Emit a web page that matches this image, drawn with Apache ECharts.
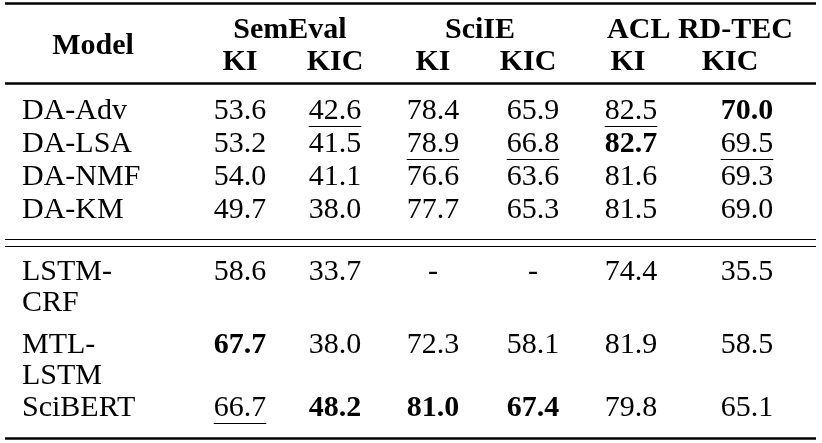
<!DOCTYPE html>
<html><head><meta charset="utf-8">
<script src="https://cdn.jsdelivr.net/npm/echarts@6/dist/echarts.min.js"></script>
<style>html,body{margin:0;background:#fff}#c{width:822px;height:443px}</style>
</head><body><div id="c"></div>
<script>
const models = ['DA-Adv','DA-LSA','DA-NMF','DA-KM','LSTM-\nCRF','MTL-\nLSTM','SciBERT'];
const groups = ['SemEval','SciIE','ACL RD-TEC'];
const subCols = ['KI','KIC','KI','KIC','KI','KIC'];
const values = [
 ['53.6','42.6','78.4','65.9','82.5','70.0'],
 ['53.2','41.5','78.9','66.8','82.7','69.5'],
 ['54.0','41.1','76.6','63.6','81.6','69.3'],
 ['49.7','38.0','77.7','65.3','81.5','69.0'],
 ['58.6','33.7','-','-','74.4','35.5'],
 ['67.7','38.0','72.3','58.1','81.9','58.5'],
 ['66.7','48.2','81.0','67.4','79.8','65.1']
];
const bold = [[0,5],[1,4],[5,0],[6,1],[6,2],[6,3]];
const under = [[0,1],[0,4],[1,2],[1,3],[1,5],[6,0]];

// layout
const colX = [240,335,433,533,631,747];
const headX = [240,335,433,528,628,730];
const groupX = [290,480,700];
const rowY = [111,144,177,210,272,345,408];
const F = 'Liberation Serif', FS = 30;
const cells = [];
models.forEach((m,r)=>{
  const lines = m.split('\n');
  lines.forEach((t,k)=>cells.push({value:[22,rowY[r]+k*31],t,align:'left'}));
  values[r].forEach((v,c)=>{
    const isB = bold.some(b=>b[0]===r&&b[1]===c);
    cells.push({value:[colX[c],rowY[r]],t:v,bold:isB});
  });
});
cells.push({value:[93,46],t:'Model',bold:true});
groups.forEach((g,i)=>cells.push({value:[groupX[i],30],t:g,bold:true}));
subCols.forEach((s,i)=>cells.push({value:[headX[i],62],t:s,bold:true}));

const cv=document.createElement('canvas').getContext('2d');
function w(t,b){cv.font=(b?'bold ':'')+FS+'px "'+F+'"';return cv.measureText(t).width;}
const seg=(x1,x2,y,wd)=>[{coord:[x1,y],lineStyle:{width:wd}},{coord:[x2,y]}];
const lines=[seg(5,816,3,2.5),seg(5,816,83,2.5),seg(5,816,239,1.2),seg(5,816,246,1.2),seg(5,816,438,2.5)];
under.forEach(([r,c])=>{const ww=w(values[r][c]);lines.push(seg(colX[c]-ww/2,colX[c]+ww/2,rowY[r]+15,1.2));});

const chart=echarts.init(document.getElementById('c'));
chart.setOption({
  animation:false,
  grid:{left:0,right:0,top:0,bottom:0},
  xAxis:{type:'value',min:0,max:822,show:false},
  yAxis:{type:'value',min:0,max:443,inverse:true,show:false},
  series:[{
    type:'scatter',symbolSize:0,silent:true,itemStyle:{opacity:1},
    data:cells.map(c=>({value:c.value,label:{show:true,position:'inside',formatter:c.t,
      align:c.align||'center',verticalAlign:'middle',color:'#000',opacity:1,fontFamily:F,fontSize:FS,
      fontWeight:c.bold?'bold':'normal'}})),
    markLine:{silent:true,symbol:'none',label:{show:false},lineStyle:{color:'#000',type:'solid',opacity:1},data:lines}
  }]
});
</script></body></html>
